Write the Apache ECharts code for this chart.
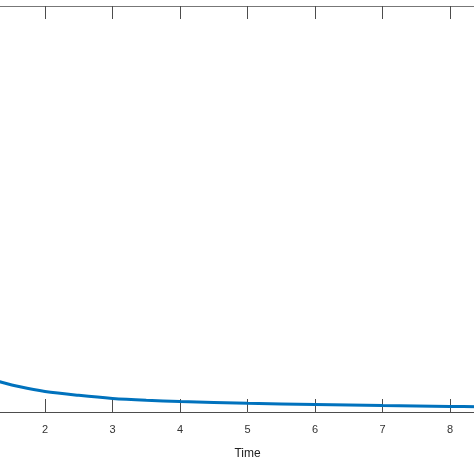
<!DOCTYPE html>
<html><head><meta charset="utf-8">
<script src="https://cdn.jsdelivr.net/npm/echarts@6/dist/echarts.min.js"></script>
<style>html,body{margin:0;padding:0;background:#fff;overflow:hidden;width:474px;height:474px;position:relative}#c{position:absolute;left:-60px;top:0;width:620px;height:474px}</style>
</head><body><div id="c"></div>
<script>
const timeValues = [1.25, 1.33, 1.63, 2, 2.5, 3, 3.5, 4, 5, 6, 7, 8, 8.4, 9];
const responseValues = [0.079, 0.0746, 0.062, 0.0505, 0.041, 0.0335, 0.029, 0.026, 0.0214, 0.0185, 0.0158, 0.0137, 0.013, 0.0125];
const xTickLabels = ['1','2','3','4','5','6','7','8','9'];

const chart = echarts.init(document.getElementById('c'), null, {renderer:'canvas'});
const axisColor = '#4d4d4d';
chart.setOption({
  animation: false,
  grid: {left: 37.5, right: 42.5, top: 6, bottom: 62, containLabel: false},
  xAxis: [{
    type: 'value', min: 1, max: 9, interval: 1, position: 'bottom',
    name: 'Time', nameLocation: 'middle', nameGap: 36,
    nameTextStyle: {fontFamily: 'Liberation Sans Narrow, Liberation Sans, Arial', fontSize: 12, color: '#222'},
    axisLine: {show: true, lineStyle: {color: axisColor, width: 1}},
    axisTick: {show: true, inside: true, length: 13, lineStyle: {color: axisColor}},
    axisLabel: {margin: 12, fontFamily: 'Liberation Sans Narrow, Liberation Sans, Arial', fontSize: 11, color: '#333',
      formatter: v => xTickLabels[Math.round(v) - 1] || ''},
    splitLine: {show: false}
  }, {
    type: 'value', min: 1, max: 9, interval: 1, position: 'top',
    axisLine: {show: true, lineStyle: {color: '#777', width: 1}},
    axisTick: {show: true, inside: true, length: 13, lineStyle: {color: axisColor}},
    axisLabel: {show: false},
    splitLine: {show: false}
  }],
  yAxis: {type: 'value', min: 0, max: 1, show: false, splitLine: {show: false}},
  series: [{
    type: 'line', xAxisIndex: 0,
    data: timeValues.map((t, i) => [t, responseValues[i]]),
    smooth: 0.3, showSymbol: false,
    lineStyle: {color: '#0072BD', width: 3}
  }]
});
</script></body></html>
